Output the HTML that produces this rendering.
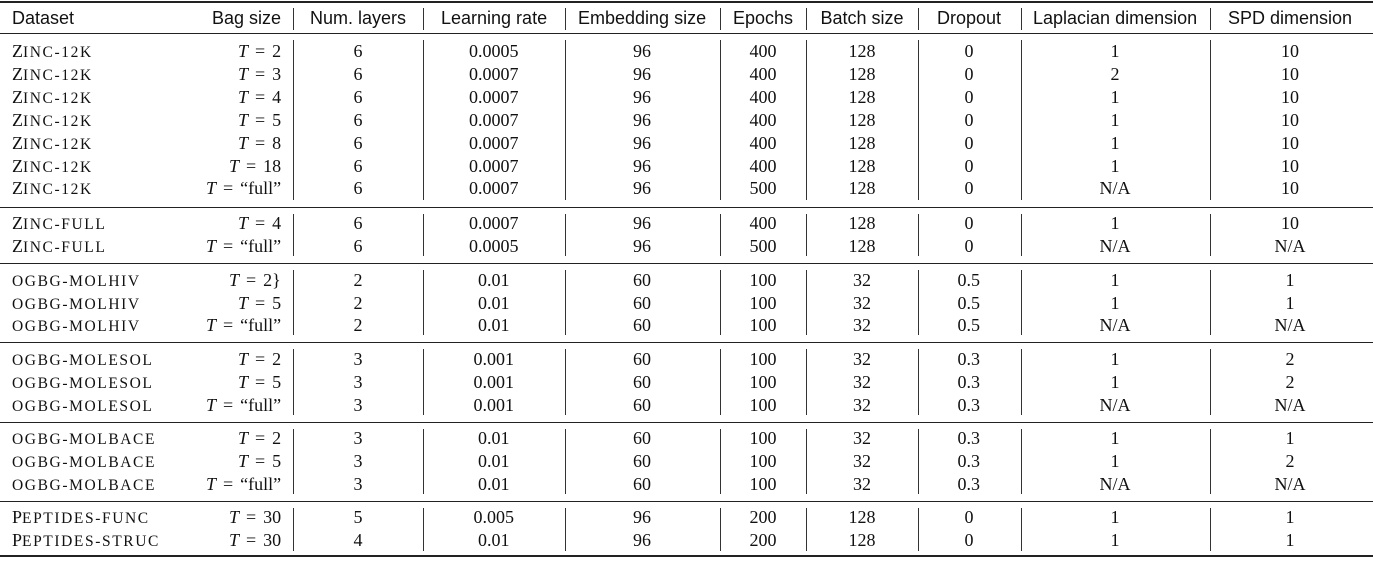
<!DOCTYPE html>
<html><head><meta charset="utf-8">
<style>
html,body{margin:0;padding:0;background:#fff;}
#t{position:relative;width:1373px;height:562px;overflow:hidden;font-family:"Liberation Serif",serif;color:#111;}
.c{position:absolute;white-space:nowrap;font-size:18px;line-height:20px;}
.h{font-family:"Liberation Sans",sans-serif;font-size:18px;}
.sc{font-size:15.5px;letter-spacing:1.6px;}
.eq{margin:0 7px;}
.hr{position:absolute;left:0;width:1373px;background:#222;}
.vr{position:absolute;width:1px;background:#333;}
i{font-style:italic;}
</style></head>
<body>
<div id="t"></div>
<script>
const headers=["Dataset","Bag size","Num. layers","Learning rate","Embedding size","Epochs","Batch size","Dropout","Laplacian dimension","SPD dimension"];
const datasets=[
 ["Z","INC-12K"],["Z","INC-12K"],["Z","INC-12K"],["Z","INC-12K"],["Z","INC-12K"],["Z","INC-12K"],["Z","INC-12K"],
 ["Z","INC-FULL"],["Z","INC-FULL"],
 ["","OGBG-MOLHIV"],["","OGBG-MOLHIV"],["","OGBG-MOLHIV"],
 ["","OGBG-MOLESOL"],["","OGBG-MOLESOL"],["","OGBG-MOLESOL"],
 ["","OGBG-MOLBACE"],["","OGBG-MOLBACE"],["","OGBG-MOLBACE"],
 ["P","EPTIDES-FUNC"],["P","EPTIDES-STRUC"]];
const bags=["2","3","4","5","8","18","“full”","4","“full”","2}","5","“full”","2","5","“full”","2","5","“full”","30","30"];
const layers=["6","6","6","6","6","6","6","6","6","2","2","2","3","3","3","3","3","3","5","4"];
const lrs=["0.0005","0.0007","0.0007","0.0007","0.0007","0.0007","0.0007","0.0007","0.0005","0.01","0.01","0.01","0.001","0.001","0.001","0.01","0.01","0.01","0.005","0.01"];
const emb=["96","96","96","96","96","96","96","96","96","60","60","60","60","60","60","60","60","60","96","96"];
const epochs=["400","400","400","400","400","400","500","400","500","100","100","100","100","100","100","100","100","100","200","200"];
const batch=["128","128","128","128","128","128","128","128","128","32","32","32","32","32","32","32","32","32","128","128"];
const dropout=["0","0","0","0","0","0","0","0","0","0.5","0.5","0.5","0.3","0.3","0.3","0.3","0.3","0.3","0","0"];
const lap=["1","2","1","1","1","1","N/A","1","N/A","1","1","N/A","1","1","N/A","1","1","N/A","1","1"];
const spd=["10","10","10","10","10","10","10","10","N/A","1","1","N/A","2","2","N/A","1","2","N/A","1","1"];
const rowY=[51,74,97,120,143,166,188,223,246,280,303,325,359,382,405,438,461,484,517,540];
const groups=[[207],[263],[342],[422],[501]];
const T=document.getElementById('t');
const bars=[293,423,565,720,806,918,1021,1210];
const centers=[358,494,642,763,862,969,1115,1290];
function add(html,cls,x,y,align){
 const d=document.createElement('div');d.className='c '+cls;d.innerHTML=html;
 T.appendChild(d);
 const w=d.offsetWidth;
 let left=x; if(align==='c')left=x-w/2; else if(align==='r')left=x-w;
 d.style.left=left+'px';d.style.top=(y-10)+'px';return d;}
function line(cls,x,y,w,h){const d=document.createElement('div');d.className=cls;d.style.left=x+'px';d.style.top=y+'px';if(w!=null)d.style.width=w+'px';d.style.height=h+'px';T.appendChild(d);return d;}
let r=line('hr',0,1,null,2);
r=line('hr',0,33,null,1);
groups.forEach(g=>{const s=line('hr',0,g[0],null,1);});
r=line('hr',0,555,null,2);
const segs=[[8,30],[40,200],[214,256],[270,335],[349,415],[429,494],[508,551]];
segs.forEach(s=>bars.forEach(x=>{const v=line('vr',x,s[0],1,s[1]-s[0]);}));
let h=add(headers[0],'h',12,18,'l');
h=add(headers[1],'h',281,18,'r');
for(let i=2;i<headers.length;i++){h=add(headers[i],'h',centers[i-2],18,'c');
 
 }
const cols=[layers,lrs,emb,epochs,batch,dropout,lap,spd];
const colNames=['num-layers','learning-rate','embedding-size','epochs','batch-size','dropout','laplacian-dimension','spd-dimension'];
rowY.forEach((y,i)=>{
 const ds=datasets[i];
 let d=add((ds[0]?ds[0]:'')+'<span class="sc">'+ds[1]+'</span>','',12,y,'l');
 
 
 d=add('<i>T</i><span class="eq">=</span>'+bags[i],'',281,y,'r');
 
 
 cols.forEach((c,j)=>{const e=add(c[i],'',centers[j],y,'c');
  
  });
});
</script>
</body></html>
